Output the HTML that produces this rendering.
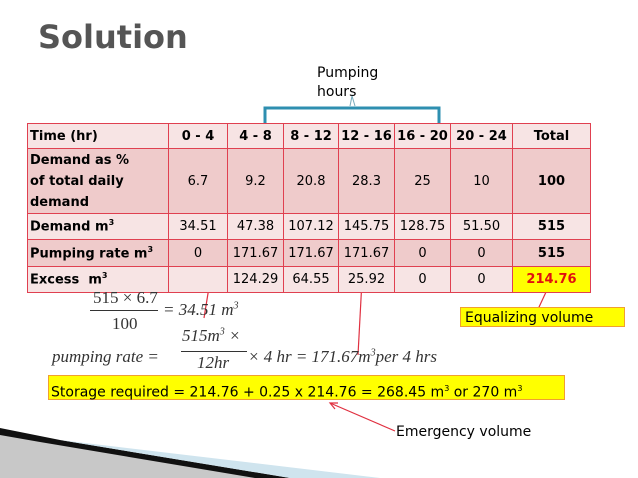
<!DOCTYPE html>
<html><head><meta charset="utf-8"><style>
body{margin:0;width:638px;height:478px;background:#fff;position:relative;overflow:hidden;font-family:"DejaVu Sans","Liberation Sans",sans-serif}
.abs{position:absolute}
table{position:absolute;left:27px;top:123px;width:563px;table-layout:fixed;border-collapse:collapse;font-size:13px;color:#000}
td{border:1px solid #e04050;padding:0;text-align:center;white-space:nowrap;overflow:hidden}
td.l{text-align:left;font-weight:bold;padding-left:2px}
.lt{background:#f7e4e4}.dk{background:#efcbcb}
.b{font-weight:bold}
.math{font-family:"Liberation Serif",serif;font-style:italic;color:#333;font-size:17px;white-space:nowrap}
</style></head><body>
<div class="abs" style="left:38px;top:18px;font-size:32px;font-weight:bold;color:#555">Solution</div>
<div class="abs" style="left:317px;top:64px;font-size:14px;line-height:19px">Pumping<br>hours</div>
<svg class="abs" style="left:0;top:0" width="638" height="478">
<path d="M265 125 V108 H439 V125" fill="none" stroke="#2e8fb0" stroke-width="3"/>
<path d="M350 106 L352 96 L355 106" fill="none" stroke="#7ab" stroke-width="1"/>
<g stroke="#e03040" stroke-width="1.2" fill="none">
<line x1="204" y1="318" x2="211" y2="275"/><path d="M207 282 L211 275 L214 282"/>
<line x1="358" y1="355" x2="362" y2="280"/><path d="M358 287 L362 280 L365 287"/>
<line x1="533" y1="320" x2="560" y2="262"/><path d="M553 267 L560 262 L560 270"/>
<line x1="395" y1="431" x2="330" y2="403"/><path d="M338 403 L330 403 L335 409"/>
</g>
<polygon points="0,432 290,478 0,478" fill="#c8c8c8"/>
<polygon points="0,428 60,440 290,478 255,478 40,442 0,435" fill="#111"/>
<polygon points="60,440 380,478 290,478" fill="#cfe4ee"/>
</svg>
<table>
<colgroup><col style="width:141px"><col style="width:59px"><col style="width:56px"><col style="width:55px"><col style="width:56px"><col style="width:56px"><col style="width:62px"><col style="width:78px"></colgroup>
<tr class="lt" style="height:25px"><td class="l">Time (hr)</td><td class="b">0 - 4</td><td class="b">4 - 8</td><td class="b">8 - 12</td><td class="b">12 - 16</td><td class="b">16 - 20</td><td class="b">20 - 24</td><td class="b">Total</td></tr>
<tr class="dk" style="height:65px"><td class="l" style="line-height:21px">Demand as %<br>of total daily<br>demand</td><td>6.7</td><td>9.2</td><td>20.8</td><td>28.3</td><td>25</td><td>10</td><td class="b">100</td></tr>
<tr class="lt" style="height:26px"><td class="l">Demand m<sup style="font-size:8px">3</sup></td><td>34.51</td><td>47.38</td><td>107.12</td><td>145.75</td><td>128.75</td><td>51.50</td><td class="b">515</td></tr>
<tr class="dk" style="height:27px"><td class="l">Pumping rate m<sup style="font-size:8px">3</sup></td><td>0</td><td>171.67</td><td>171.67</td><td>171.67</td><td>0</td><td>0</td><td class="b">515</td></tr>
<tr class="lt" style="height:26px"><td class="l">Excess&nbsp; m<sup style="font-size:8px">3</sup></td><td></td><td>124.29</td><td>64.55</td><td>25.92</td><td>0</td><td>0</td><td class="b" style="background:#ffff00;color:#e01010">214.76</td></tr>
</table>
<div class="abs math" style="left:90px;top:288px">
<div style="position:absolute;left:3px;top:0;font-style:normal">515 × 6.7</div>
<div style="position:absolute;left:0;top:22px;width:68px;border-top:1px solid #333"></div>
<div style="position:absolute;left:22px;top:26px;font-style:normal">100</div>
<div style="position:absolute;left:73px;top:12px">= 34.51 m<sup style="font-size:10px">3</sup></div>
</div>
<div class="abs math" style="left:52px;top:338px">
<div style="position:absolute;left:0;top:9px">pumping rate =</div>
<div style="position:absolute;left:130px;top:-12px">515m<sup style="font-size:10px">3</sup> ×</div>
<div style="position:absolute;left:129px;top:13px;width:66px;border-top:1px solid #333"></div>
<div style="position:absolute;left:145px;top:15px">12hr</div>
<div style="position:absolute;left:196px;top:9px">× 4 hr = 171.67m<sup style="font-size:10px">3</sup>per 4 hrs</div>
</div>
<div class="abs" style="left:460px;top:307px;width:165px;height:20px;background:#ffff00;border:1px solid #f0a030;font-size:14px;line-height:20px;padding-left:4px;box-sizing:border-box">Equalizing volume</div>
<div class="abs" style="left:48px;top:375px;width:517px;height:25px;background:#ffff00;border:1px solid #f0a030;font-size:14px;line-height:25px;padding-left:2px;box-sizing:border-box;white-space:nowrap">Storage required = 214.76 + 0.25 x 214.76 = 268.45 m<sup style="font-size:8px">3</sup> or 270 m<sup style="font-size:8px">3</sup></div>
<div class="abs" style="left:396px;top:424px;font-size:14px">Emergency volume</div>
</body></html>
